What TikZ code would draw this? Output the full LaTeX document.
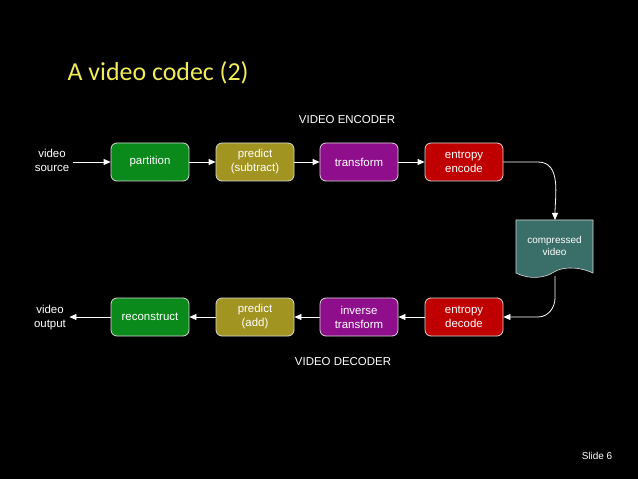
\documentclass[tikz,border=0pt]{standalone}
\usepackage{fontspec}
\setmainfont{Liberation Sans}
\newfontfamily\titlefont{Carlito}
\usetikzlibrary{arrows.meta}
\definecolor{cgreen}{HTML}{0A8A1A}
\definecolor{colive}{HTML}{A29421}
\definecolor{cpurple}{HTML}{8E0E8C}
\definecolor{cred}{HTML}{C00000}
\definecolor{cteal}{HTML}{3A6E68}
\definecolor{ctitle}{HTML}{F2EC5A}
\tikzset{
  blk/.style={draw=white!85!black, line width=0.8pt, rounded corners=6bp, minimum width=78bp, minimum height=38bp, text=white, font=\fontsize{11.5}{14}\selectfont, align=center, inner sep=1pt},
  lbl/.style={text=white, font=\fontsize{11.5}{14}\selectfont, align=center},
  conn/.style={draw=white, line width=0.8pt, -{Triangle[length=7bp,width=6bp]}}
}
\begin{document}
\begin{tikzpicture}[x=1bp,y=-1bp]
\fill[black] (0,0) rectangle (638,479);
\useasboundingbox (0,0) rectangle (638,479);
\node[anchor=west, text=ctitle, font=\titlefont\fontsize{26}{29}\selectfont] (title) at (64,73) {A video codec (2)};
\node[lbl] (enc) at (347,120) {VIDEO ENCODER};
\node[lbl] (dec) at (343,362) {VIDEO DECODER};
\node[lbl] (src) at (52,160) {video\\source};
\node[lbl] (out) at (50,318) {video\\output};
\node[blk, fill=cgreen] (part) at (150,162) {partition};
\node[blk, fill=colive] (pred) at (255,162) {predict\\(subtract)};
\node[blk, fill=cpurple] (tr) at (359,162) {transform};
\node[blk, fill=cred] (ee) at (464,162) {entropy\\encode};
\node[blk, fill=cgreen] (rec) at (150,317) {reconstruct};
\node[blk, fill=colive] (pa) at (255,317) {predict\\(add)};
\node[blk, fill=cpurple] (itr) at (359,317) {inverse\\transform};
\node[blk, fill=cred] (ed) at (464,317) {entropy\\decode};
\fill[cteal, draw=white!85!black, line width=0.6pt] (516,220) -- (593,220) -- (593,273)
  .. controls (575,265) and (560,268) .. (554,272) .. controls (545,278) and (530,280) .. (516,273) -- cycle;
\node[lbl, font=\fontsize{10}{12.5}\selectfont] (cv) at (554.5,246) {compressed\\video};
\coordinate (cvt) at (555,220);
\coordinate (cvb) at (555,276);
\draw[conn] (src.east|-part) -- (part);
\draw[conn] (part) -- (pred);
\draw[conn] (pred) -- (tr);
\draw[conn] (tr) -- (ee);
\draw[conn] (ee.east) -- (538,162) to[out=0,in=90] (cvt);
\draw[conn] (cvb) -- (555,298) to[out=-90,in=0] (538,317) -- (ed.east);
\draw[conn] (ed) -- (itr);
\draw[conn] (itr) -- (pa);
\draw[conn] (pa) -- (rec);
\draw[conn] (rec) -- (out.east|-rec);
\node[lbl, font=\fontsize{10}{12}\selectfont] (slide) at (597,456) {Slide 6};
\end{tikzpicture}
\end{document}
